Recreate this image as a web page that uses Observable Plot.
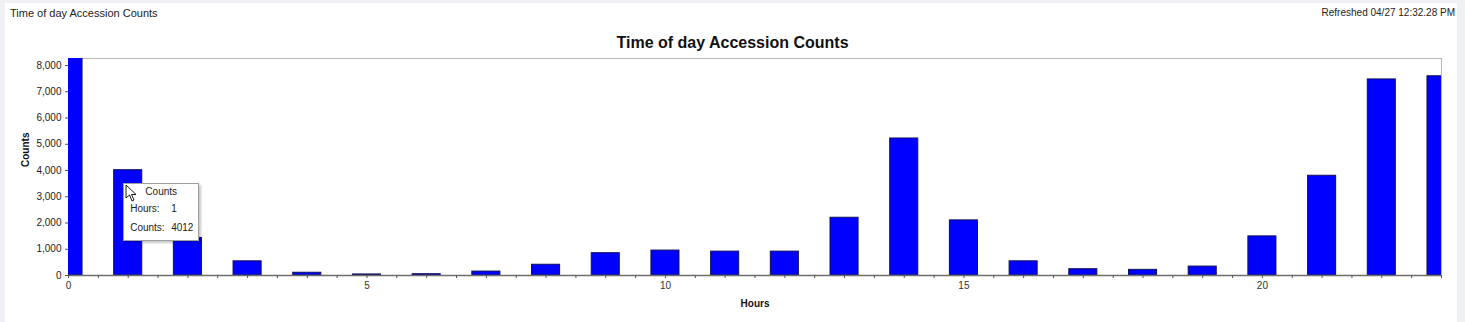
<!DOCTYPE html>
<html>
<head>
<meta charset="utf-8">
<script src="https://cdn.jsdelivr.net/npm/d3@7"></script>
<script src="https://cdn.jsdelivr.net/npm/@observablehq/plot@0.6"></script>
<style>
  html, body { margin: 0; padding: 0; background: #eef0f3; }
  #wrap { position: relative; width: 1465px; height: 322px; overflow: hidden; font-family: "Liberation Sans", Arial, sans-serif; color: #222; }
  #panel { position: absolute; left: 5px; top: 3px; width: 1452px; height: 340px; background: #fff; }
  #hdrL { position: absolute; left: 10px; top: 6px; font-size: 11px; line-height: 14px; }
  #hdrR { position: absolute; right: 10px; top: 6px; font-size: 10px; line-height: 14px; }
  #title { position: absolute; left: 0; top: 34px; width: 1465px; text-align: center; font-size: 16px; line-height: 18px; font-weight: bold; color: #111; }
  #chart { position: absolute; left: 0; top: 0; }
  #tip { position: absolute; width: 74px; height: 56px; background: #fff; border: 1px solid #a0a0a0; box-shadow: 2px 2px 2px rgba(0,0,0,0.22); font-size: 10px; color: #222; }
  #tip .t { position: absolute; left: 0; width: 74px; text-align: center; top: 2px; }
  #tip .row { position: absolute; left: 6px; }
  #tip .v { position: absolute; }
  #cursor { position: absolute; }
</style>
</head>
<body>
<div id="wrap">
  <div id="panel"></div>
  <div id="hdrL">Time of day Accession Counts</div>
  <div id="hdrR">Refreshed 04/27 12:32.28 PM</div>
  <div id="title">Time of day Accession Counts</div>
  <div id="chart"></div>
</div>
<script>
// ---- data ----
const hours  = [0, 1, 2, 3, 4, 5, 6, 7, 8, 9, 10, 11, 12, 13, 14, 15, 16, 17, 18, 19, 20, 21, 22, 23];
const counts = [8900, 4012, 1430, 540, 105, 40, 50, 150, 410, 850, 950, 910, 910, 2200, 5220, 2100, 540, 240, 215, 340, 1490, 3800, 7470, 7590];
const yTicks = [0, 1000, 2000, 3000, 4000, 5000, 6000, 7000, 8000];
const xLabelTicks = [0, 5, 10, 15, 20];
const tipHour = 1;
const tipTitle = "Counts";
const xName = "Hours";
const yName = "Counts";

const data = hours.map((h, i) => ({hour: h, count: counts[i]}));
const minorTicks = d3.range(0, 23.01, 0.5);
const fmt = d3.format(",");

const chart = Plot.plot({
  width: 1465,
  height: 322,
  marginTop: 58,
  marginLeft: 68,
  marginRight: 24,
  marginBottom: 47,
  style: {background: "transparent", fontFamily: "Liberation Sans, Arial, sans-serif", fontSize: "10px", color: "#222"},
  x: {domain: [0, 23]},
  y: {domain: [0, 8267]},
  marks: [
    Plot.frame({stroke: "#b8b8b8"}),
    Plot.rect(data, {x1: d => d.hour - 0.235, x2: d => d.hour + 0.235, y1: 0, y2: "count", fill: "#0000ff", stroke: "#10105a", strokeWidth: 1, clip: true}),
    Plot.ruleY([0], {stroke: "#6e6e6e", strokeWidth: 1.5}),
    Plot.axisX({ticks: minorTicks, tickSize: 3, tickPadding: 3, stroke: "#555", tickFormat: d => xLabelTicks.includes(d) ? String(d) : "", label: null, fill: "#333"}),
    Plot.axisY({ticks: yTicks, tickSize: 3, tickPadding: 4, stroke: "#555", tickFormat: d => fmt(d), label: null, fill: "#222"}),
    Plot.text([yName], {frameAnchor: "left", dx: -43, rotate: -90, fontWeight: "bold", fontSize: 10, fill: "#111"}),
    Plot.text([xName], {frameAnchor: "bottom", dy: 31, fontWeight: "bold", fontSize: 10, fill: "#111"})
  ]
});
document.getElementById("chart").appendChild(chart);

// tooltip anchored to the hovered bar
const xs = chart.scale("x"), ys = chart.scale("y");
const tipCount = counts[hours.indexOf(tipHour)];
const px = xs.apply(tipHour), py = ys.apply(tipCount);
const tip = document.createElement("div");
tip.id = "tip";
tip.style.left = (px - 4.5) + "px";
tip.style.top = (py + 13.5) + "px";
tip.innerHTML =
  `<div class="t">${tipTitle}</div>` +
  `<div class="row" style="top:19px">${xName}:</div><div class="v" style="top:19px;left:47px">${tipHour}</div>` +
  `<div class="row" style="top:38px">${yName}:</div><div class="v" style="top:38px;left:47px">${tipCount}</div>`;
document.getElementById("wrap").appendChild(tip);

// mouse cursor
const cur = document.createElementNS("http://www.w3.org/2000/svg", "svg");
cur.setAttribute("id", "cursor");
cur.setAttribute("width", "14");
cur.setAttribute("height", "20");
cur.style.left = (px - 3) + "px";
cur.style.top = (py + 14.5) + "px";
cur.innerHTML = '<path d="M1 1 L1 14 L4.5 11 L7 17 L9 16 L6.5 10.5 L11 10.5 Z" fill="#fff" stroke="#000" stroke-width="0.9" stroke-linejoin="round"/>';
document.getElementById("wrap").appendChild(cur);
</script>
</body>
</html>
